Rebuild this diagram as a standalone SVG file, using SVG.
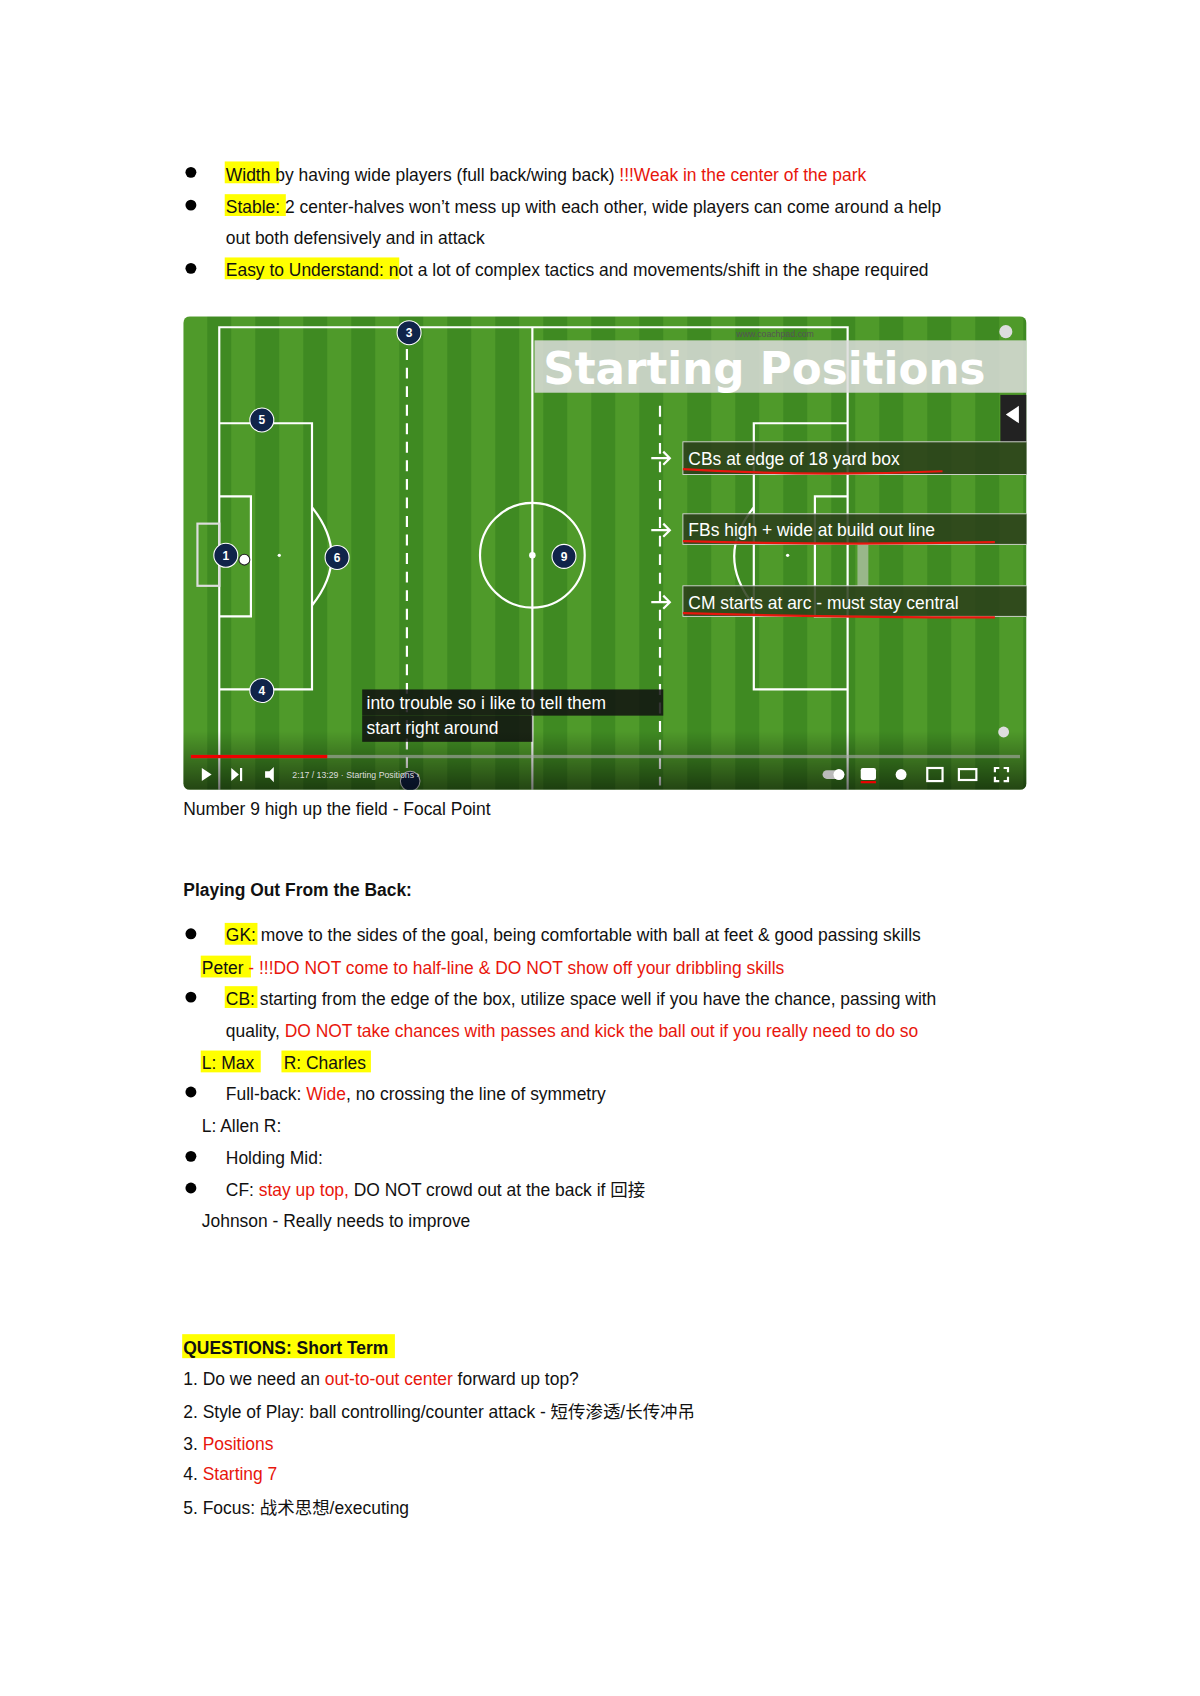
<svg xmlns="http://www.w3.org/2000/svg" width="1200" height="1696" viewBox="0 0 1200 1696">
<style>
.t{font-family:"Liberation Sans","Noto Sans CJK SC",sans-serif;font-size:16px;fill:#111}
.r{fill:#e8160c}
.hl{fill:#ffff00}
.ln{stroke:#fff;stroke-width:2;fill:none}
.pl{fill:#10244a;stroke:#fff;stroke-width:1}
.pn{font-family:"Liberation Sans",sans-serif;font-weight:bold;font-size:11px;fill:#fff;text-anchor:middle}
.lb{fill:#2a3d1a;fill-opacity:.85;stroke:#ddd;stroke-width:.8}
.lt{font-family:"Liberation Sans",sans-serif;font-size:16px;fill:#fff}
.ul{stroke:#e8160c;stroke-width:2;fill:none}
</style>
<defs>
<pattern id="stripes" x="168" y="0" width="44" height="10" patternUnits="userSpaceOnUse">
<rect width="22" height="10" fill="#4f9a2a"/><rect x="22" width="22" height="10" fill="#3f8a22"/>
</pattern>
<clipPath id="img"><rect x="168" y="290" width="773" height="434" rx="6"/></clipPath>
<linearGradient id="bar" x1="0" y1="0" x2="0" y2="1"><stop offset="0" stop-color="#000" stop-opacity="0"/><stop offset="1" stop-color="#000" stop-opacity=".55"/></linearGradient>
</defs>
<rect width="1200" height="1696" fill="#fff"/>
<g transform="scale(1.0909)">
<g id="bullets-top">
<rect class="hl" x="206" y="148" width="50" height="20"/>
<circle cx="175" cy="158" r="5"/>
<text class="t" x="207" y="166">Width <tspan>by having wide players (full back/wing back) </tspan><tspan class="r">!!!Weak in the center of the park</tspan></text>
<rect class="hl" x="206" y="178" width="56" height="20"/>
<circle cx="175" cy="188" r="5"/>
<text class="t" x="207" y="195">Stable: 2 center-halves won’t mess up with each other, wide players can come around a help</text>
<text class="t" x="207" y="224">out both defensively and in attack</text>
<rect class="hl" x="206" y="236" width="160" height="20"/>
<circle cx="175" cy="246" r="5"/>
<text class="t" x="207" y="253">Easy to Understand: not a lot of complex tactics and movements/shift in the shape required</text>
</g>
<g id="video" clip-path="url(#img)">
<rect x="168" y="290" width="773" height="434" fill="url(#stripes)"/>
<path class="ln" d="M201 724V300H777V724M488 300V724"/>
<path class="ln" d="M201 388H286V632H201M201 455H230V565H201M286 465Q322 510 286 555"/>
<rect x="181" y="480" width="20" height="57" fill="none" stroke="#ddd" stroke-width="2"/>
<circle cx="256" cy="509" r="1.5" fill="#fff"/>
<circle class="ln" cx="488" cy="509" r="48"/>
<circle cx="488" cy="509" r="3" fill="#fff"/>
<path class="ln" d="M777 388H691V632H777M777 455H747V565H777M691 465Q655 510 691 555"/>
<circle cx="722" cy="509" r="1.5" fill="#fff"/>
<rect x="786" y="480" width="10" height="57" fill="#ccc" fill-opacity=".6"/>
<path class="ln" d="M373 320V720M605 372V720" stroke-dasharray="10,7"/>
<rect x="490" y="312" width="451" height="48" fill="#ddd" fill-opacity=".85"/>
<text x="498" y="352" font-family="'DejaVu Sans',sans-serif" font-weight="bold" font-size="40" fill="#fff">Starting Positions</text>
<rect x="917" y="362" width="24" height="43" fill="#222"/>
<path d="M934 372L922 380L934 388Z" fill="#fff"/>
<text x="675" y="309" font-family="'Liberation Sans',sans-serif" font-size="8" fill="#555">www.coachpad.com</text>
<circle cx="922" cy="304" r="6" fill="#ddd"/>
<g id="labels">
<rect class="lb" x="626" y="405" width="316" height="30"/>
<text class="lt" x="631" y="426">CBs at edge of 18 yard box</text>
<path class="ul" d="M626 430Q740 437 864 432"/>
<rect class="lb" x="626" y="471" width="316" height="28"/>
<text class="lt" x="631" y="491">FBs high + wide at build out line</text>
<path class="ul" d="M626 496Q760 500 912 497"/>
<rect class="lb" x="626" y="537" width="316" height="28"/>
<text class="lt" x="631" y="558">CM starts at arc - must stay central</text>
<path class="ul" d="M626 562Q760 566 912 566"/>
<path class="ln" d="M597 420H613M608 414L614 420L608 426M597 486H613M608 480L614 486L608 492M597 552H613M608 546L614 552L608 558" stroke-width="1.5"/>
</g>
<g id="players">
<circle class="pl" cx="375" cy="305" r="11"/><text class="pn" x="375" y="309">3</text>
<circle class="pl" cx="240" cy="385" r="11"/><text class="pn" x="240" y="389">5</text>
<circle class="pl" cx="207" cy="509" r="11"/><text class="pn" x="207" y="513">1</text>
<circle cx="224" cy="513" r="5" fill="#fff" stroke="#222"/>
<circle class="pl" cx="309" cy="511" r="11"/><text class="pn" x="309" y="515">6</text>
<circle class="pl" cx="517" cy="510" r="11"/><text class="pn" x="517" y="514">9</text>
<circle class="pl" cx="240" cy="633" r="11"/><text class="pn" x="240" y="637">4</text>
<circle class="pl" cx="376" cy="716" r="9"/>
</g>
<rect x="332" y="632" width="276" height="24" fill="#111" fill-opacity=".85"/>
<rect x="332" y="656" width="156" height="24" fill="#111" fill-opacity=".85"/>
<text class="lt" x="336" y="650" font-size="17">into trouble so i like to tell them</text>
<text class="lt" x="336" y="673" font-size="17">start right around</text>
<rect x="168" y="670" width="773" height="54" fill="url(#bar)"/>
<rect x="175" y="692" width="760" height="3" fill="#aaa" fill-opacity=".6"/>
<rect x="175" y="692" width="125" height="3" fill="#e00"/>
<path d="M185 704L194 710L185 716Z M212 704L219 710L212 716Z" fill="#fff"/>
<rect x="220" y="704" width="2" height="12" fill="#fff"/>
<path d="M243 707H247L251 703V717L247 713H243Z" fill="#fff"/>
<text x="268" y="713" font-family="'Liberation Sans',sans-serif" font-size="8" fill="#ddd">2:17 / 13:29  ·  Starting Positions  ›</text>
<rect x="754" y="706" width="20" height="8" rx="4" fill="#bbb"/><circle cx="769" cy="710" r="5" fill="#fff"/>
<rect x="789" y="704" width="14" height="11" rx="2" fill="#fff"/><rect x="789" y="716" width="14" height="2" fill="#e00"/>
<circle cx="826" cy="710" r="5" fill="#fff"/>
<rect x="850" y="704" width="14" height="12" fill="none" stroke="#fff" stroke-width="2"/>
<rect x="879" y="705" width="16" height="10" fill="none" stroke="#fff" stroke-width="2"/>
<path d="M912 708V704H916M920 704H924V708M924 712V716H920M916 716H912V712" stroke="#fff" stroke-width="2" fill="none"/>
<circle cx="920" cy="671" r="5" fill="#ddd"/>
</g>
<text class="t" x="168" y="747">Number 9 high up the field - Focal Point</text>
<text class="t" x="168" y="821" font-size="21" font-weight="bold">Playing Out From the Back:</text>
<g id="bullets-back">
<rect class="hl" x="206" y="846" width="30" height="20"/>
<circle cx="175" cy="856" r="5"/>
<text class="t" x="207" y="863">GK: move to the sides of the goal, being comfortable with ball at feet &amp; good passing skills</text>
<rect class="hl" x="184" y="876" width="46" height="20"/>
<text class="t" x="185" y="893">Peter <tspan class="r">- !!!DO NOT come to half-line &amp; DO NOT show off your dribbling skills</tspan></text>
<rect class="hl" x="206" y="904" width="30" height="20"/>
<circle cx="175" cy="914" r="5"/>
<text class="t" x="207" y="921">CB: starting from the edge of the box, utilize space well if you have the chance, passing with</text>
<text class="t" x="207" y="951">quality, <tspan class="r">DO NOT take chances with passes and kick the ball out if you really need to do so</tspan></text>
<rect class="hl" x="184" y="963" width="55" height="20"/>
<rect class="hl" x="258" y="963" width="82" height="20"/>
<text class="t" x="185" y="980">L: Max</text>
<text class="t" x="260" y="980">R: Charles</text>
<circle cx="175" cy="1001" r="5"/>
<text class="t" x="207" y="1008">Full-back: <tspan class="r">Wide</tspan>, no crossing the line of symmetry</text>
<text class="t" x="185" y="1038">L: Allen      R:</text>
<circle cx="175" cy="1060" r="5"/>
<text class="t" x="207" y="1067">Holding Mid:</text>
<circle cx="175" cy="1089" r="5"/>
<text class="t" x="207" y="1096">CF: <tspan class="r">stay up top,</tspan> DO NOT crowd out at the back if 回接</text>
<text class="t" x="185" y="1125">Johnson - Really needs to improve</text>
</g>
<g id="questions">
<rect class="hl" x="167" y="1223" width="195" height="22"/>
<text class="t" x="168" y="1241" font-weight="bold" font-size="17">QUESTIONS: Short Term</text>
<text class="t" x="168" y="1270">1. Do we need an <tspan class="r">out-to-out center</tspan> forward up top?</text>
<text class="t" x="168" y="1300">2. Style of Play: ball controlling/counter attack - 短传渗透/长传冲吊</text>
<text class="t" x="168" y="1329">3. <tspan class="r">Positions</tspan></text>
<text class="t" x="168" y="1357">4. <tspan class="r">Starting 7</tspan></text>
<text class="t" x="168" y="1388">5. Focus: 战术思想/executing</text>
</g>
</g>
</svg>
